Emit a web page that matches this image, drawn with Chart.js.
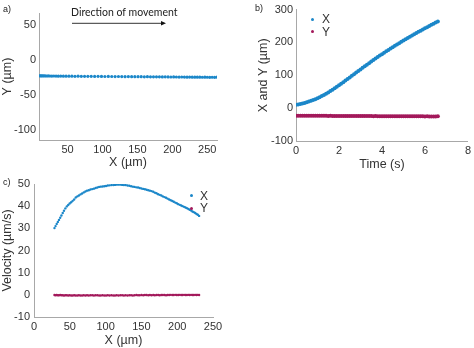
<!DOCTYPE html>
<html><head><meta charset="utf-8">
<script src="https://cdn.jsdelivr.net/npm/chart.js@4/dist/chart.umd.min.js"></script>
<style>
html,body{margin:0;padding:0;background:#fff;width:474px;height:348px;overflow:hidden;position:relative;font-family:"Liberation Sans",Arial,sans-serif;color:#333}
.cv{position:absolute}
.lbl{position:absolute;font-size:9px;color:#222;font-family:"Liberation Sans",Arial,sans-serif}
.leg{position:absolute;font-size:12px;color:#333;line-height:12px}
.dot{position:absolute;width:3px;height:3px;border-radius:50%}
</style></head><body>
<div class="cv" style="left:0;top:0;width:245px;height:170px"><canvas id="ca"></canvas></div>
<div class="cv" style="left:250px;top:0;width:224px;height:175px"><canvas id="cb"></canvas></div>
<div class="cv" style="left:0;top:172px;width:245px;height:176px"><canvas id="cc"></canvas></div>

<div class="lbl" style="left:3px;top:4px">a)</div>
<div class="lbl" style="left:255px;top:3px">b)</div>
<div class="lbl" style="left:3px;top:177px">c)</div>

<div style="position:absolute;left:71px;top:6px;font-family:Lato,sans-serif;font-size:10.5px;color:#222;white-space:nowrap">Direction of movement</div>
<svg style="position:absolute;left:0;top:0" width="200" height="30"><line x1="72" y1="23.3" x2="162" y2="23.3" stroke="#333" stroke-width="1"/><polygon points="161,21 166,23.3 161,25.6" fill="#111"/></svg>

<div class="dot" style="left:311px;top:18px;background:#1b87c9"></div><div class="leg" style="left:322px;top:13px">X</div>
<div class="dot" style="left:311px;top:30px;background:#a3195b"></div><div class="leg" style="left:322px;top:26px">Y</div>
<div class="dot" style="left:190px;top:194px;background:#1b87c9"></div><div class="leg" style="left:200px;top:190px">X</div>
<div class="dot" style="left:190px;top:207px;background:#a3195b"></div><div class="leg" style="left:200px;top:202px">Y</div>

<script>
// ---- data ----
const time = [0.0,0.1,0.2,0.3,0.4,0.5,0.6,0.7,0.8,0.9,
  1.0,1.1,1.2,1.3,1.4,1.5,1.6,1.7,1.8,1.9,
  2.0,2.1,2.2,2.3,2.4,2.5,2.6,2.7,2.8,2.9,
  3.0,3.1,3.2,3.3,3.4,3.5,3.6,3.7,3.8,3.9,
  4.0,4.1,4.2,4.3,4.4,4.5,4.6,4.7,4.8,4.9,
  5.0,5.1,5.2,5.3,5.4,5.5,5.6,5.7,5.8,5.9,
  6.0,6.1,6.2,6.3,6.4,6.5,6.6];
const xPos = [10.0,11.3,12.7,14.2,15.9,17.8,19.9,22.2,24.7,27.4,
  30.3,33.4,36.7,40.2,43.9,47.8,51.9,56.1,60.5,65.0,
  69.6,74.3,79.0,83.8,88.7,93.6,98.5,103.4,108.3,113.2,
  118.0,122.8,127.6,132.3,137.0,141.7,146.3,150.9,155.4,159.9,
  164.3,168.7,173.0,177.3,181.5,185.7,189.8,193.9,197.9,201.9,
  205.8,209.7,213.5,217.3,221.1,224.8,228.5,232.2,235.8,239.4,
  243.0,246.6,250.1,253.6,257.1,260.6,264.0];
const yPos = [-23.0,-23.1,-23.0,-23.2,-23.1,-23.2,-23.3,-23.2,-23.3,-23.4,
  -23.3,-23.4,-23.5,-23.4,-23.5,-23.6,-23.5,-23.6,-23.7,-23.6,
  -23.7,-23.8,-23.7,-23.8,-23.9,-23.8,-23.9,-24.0,-23.9,-24.0,
  -24.1,-24.0,-24.1,-24.2,-24.1,-24.2,-24.3,-24.2,-24.3,-24.4,
  -24.3,-24.4,-24.5,-24.4,-24.5,-24.6,-24.5,-24.6,-24.7,-24.6,
  -24.7,-24.8,-24.7,-24.8,-24.9,-24.8,-24.9,-25.0,-24.9,-25.0,
  -25.1,-25.0,-25.1,-25.2,-25.1,-25.2,-25.0];
// panel c: velocity against X position
const velX = [28.6,30.1,31.7,33.3,34.9,36.6,38.3,40.1,41.9,43.8,
  45.8,47.8,49.8,51.9,54.0,56.1,58.3,60.5,62.7,64.9,
  67.2,69.5,71.8,74.1,76.5,78.9,81.3,83.7,86.1,88.5,
  90.9,93.3,95.7,98.1,100.6,103.1,105.6,108.1,110.6,113.1,
  115.6,118.1,120.6,123.1,125.6,128.1,130.6,133.1,135.6,138.1,
  140.5,142.9,145.3,147.7,150.1,152.5,154.9,157.3,159.6,161.9,
  164.2,166.5,168.8,171.1,173.4,175.6,177.8,180.0,182.2,184.4,
  186.6,188.8,191.0,193.1,195.2,197.3,199.4,201.5,203.6,205.6,
  207.6,209.6,211.6,213.6,215.6,217.5,219.4,221.3,223.2,225.1,
  227.0,228.8,230.6];
const vX = [30.1,31.0,32.0,32.9,33.8,34.8,35.8,36.9,37.9,39.0,
  39.9,40.5,41.2,41.8,42.4,43.0,43.9,44.4,44.8,45.3,
  45.7,46.2,46.6,47.0,47.2,47.5,47.7,47.9,48.2,48.4,
  48.7,48.8,48.9,49.0,49.1,49.3,49.4,49.5,49.5,49.6,
  49.7,49.7,49.7,49.6,49.5,49.5,49.3,49.2,49.0,48.8,
  48.7,48.5,48.4,48.2,48.0,47.8,47.6,47.4,47.2,47.0,
  46.8,46.5,46.1,45.8,45.4,45.1,44.8,44.4,44.1,43.8,
  43.4,43.0,42.7,42.3,42.0,41.6,41.3,40.9,40.6,40.3,
  40.0,39.7,39.4,39.1,38.7,38.4,38.0,37.6,37.3,36.9,
  36.5,36.1,35.6];
const vY = [-0.1,-0.2,-0.1,-0.2,-0.2,-0.1,-0.2,-0.2,-0.3,-0.2,
  -0.2,-0.3,-0.2,-0.3,-0.3,-0.2,-0.3,-0.3,-0.2,-0.3,
  -0.3,-0.2,-0.3,-0.2,-0.3,-0.2,-0.2,-0.3,-0.2,-0.2,
  -0.3,-0.3,-0.2,-0.3,-0.3,-0.2,-0.3,-0.2,-0.3,-0.3,
  -0.2,-0.3,-0.2,-0.2,-0.3,-0.2,-0.3,-0.2,-0.2,-0.3,
  -0.2,-0.1,-0.2,-0.2,-0.1,-0.2,-0.1,-0.1,-0.2,-0.1,
  -0.2,-0.1,-0.2,-0.1,-0.1,-0.2,-0.1,-0.1,-0.1,-0.2,
  -0.1,-0.1,-0.0,-0.1,-0.1,-0.0,-0.1,-0.1,-0.0,-0.1,
  -0.1,-0.0,-0.1,-0.1,-0.0,-0.1,-0.0,-0.1,-0.1,-0.0,
  -0.1,-0.0,-0.1];
const ticksA_X = [50,100,150,200,250];
const ticksA_Y = [-100,-50,0,50];
const ticksB_X = [0,2,4,6,8];
const ticksB_Y = [-100,0,100,200,300];
const ticksC_X = [0,50,100,150,200,250];
const ticksC_Y = [-10,0,10,20,30,40,50];

const BLUE = '#1b87c9', MAG = '#a3195b';
const AXC = '#a8a8a8', TXT = '#333';
const tickFont = {family:'"Liberation Sans", Arial, sans-serif', size:11};
const titleFont = {family:'"Liberation Sans", Arial, sans-serif', size:12.5};

function pts(xs, ys){ return xs.map((x,i)=>({x:x, y:ys[i]})); }

function axis(min, max, tickVals, title, opts){
  return {
    type:'linear', min:min, max:max,
    afterBuildTicks: s => { s.ticks = tickVals.map(v=>({value:v})); },
    afterFit: s => { if (s.isHorizontal()) s.height = opts.size; else s.width = opts.size; },
    grid:{display:false, drawTicks:false},
    border:{display:true, color:AXC, width:1},
    ticks:{color:TXT, font:tickFont, padding:opts.pad, autoSkip:false, maxRotation:0},
    title:{display:true, text:title, color:TXT, font:titleFont, padding:opts.tpad}
  };
}

function makeChart(id, datasets, xs, ys, padding){
  return new Chart(document.getElementById(id), {
    type:'scatter',
    data:{datasets:datasets},
    options:{
      responsive:true, maintainAspectRatio:false, animation:false,
      events:[],
      layout:{padding:padding},
      plugins:{legend:{display:false}, tooltip:{enabled:false}},
      scales:{x:xs, y:ys}
    }
  });
}

function ds(label, data, color, r){
  return {label:label, data:data, backgroundColor:color, borderColor:color, borderWidth:0, pointRadius:r, showLine:false};
}

// a) Y vs X
makeChart('ca',
  [ds('Y', pts(xPos, yPos), BLUE, 1.6)],
  axis(9, 264, ticksA_X, 'X (µm)', {size:30, pad:3, tpad:{top:0,bottom:0}}),
  axis(-115, 67, ticksA_Y, 'Y (µm)', {size:39, pad:3, tpad:{top:0,bottom:0}}),
  {top:13, right:28, left:0, bottom:0});

// b) X and Y vs time
makeChart('cb',
  [ds('X', pts(time, xPos), BLUE, 2), ds('Y', pts(time, yPos), MAG, 2)],
  axis(0, 8, ticksB_X, 'Time (s)', {size:34, pad:3, tpad:{top:0,bottom:3}}),
  axis(-100, 300, ticksB_Y, 'X and Y (µm)', {size:46, pad:3, tpad:{top:6,bottom:0}}),
  {top:7, right:3, left:0, bottom:0});

// c) velocity vs X
makeChart('cc',
  [ds('X', pts(velX, vX), BLUE, 1.2), ds('Y', pts(velX, vY), MAG, 1.2)],
  axis(0, 250, ticksC_X, 'X (µm)', {size:31, pad:3, tpad:{top:0,bottom:0}}),
  axis(-10, 50, ticksC_Y, 'Velocity (µm/s)', {size:34, pad:4, tpad:{top:0,bottom:0}}),
  {top:12, right:32, left:0, bottom:0});
</script>
</body></html>
